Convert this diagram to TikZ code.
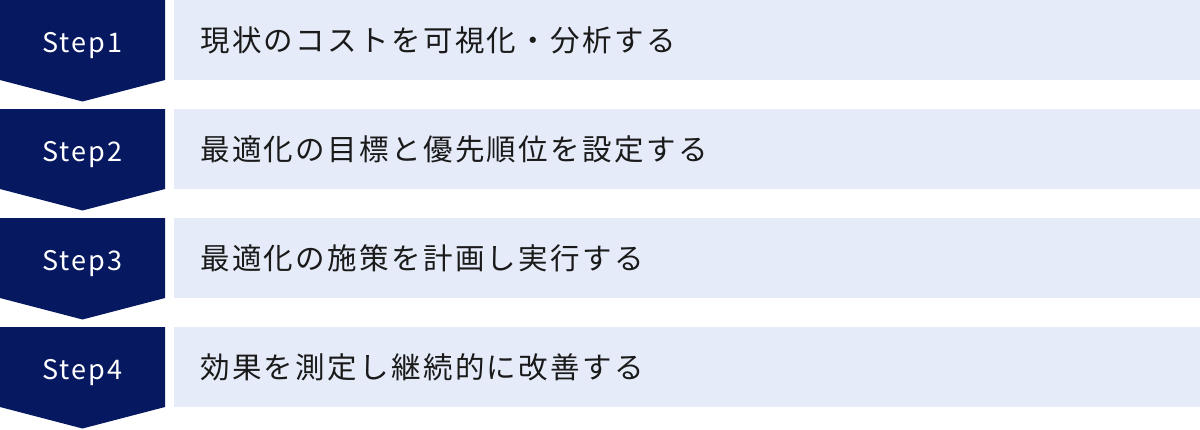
\documentclass[tikz,border=0pt]{standalone}
\usepackage{fontspec}
\setmainfont{Noto Sans CJK JP}
\newfontfamily\jpfont[LetterSpace=8]{Noto Sans CJK JP}
\newfontfamily\stepfont[LetterSpace=8]{Noto Sans CJK JP}
\definecolor{navy}{HTML}{061860}
\definecolor{pale}{HTML}{E5EBF8}
\definecolor{ink}{HTML}{1A1A1A}
\tikzset{
  steplabel/.style={text=white, font=\stepfont\fontsize{27}{32}\selectfont, inner sep=0pt, anchor=base},
  itemlabel/.style={text=ink, font=\jpfont\fontsize{29.5}{35}\selectfont, inner sep=0pt, anchor=base west},
}
\begin{document}
\begin{tikzpicture}[x=1pt,y=1pt]
\useasboundingbox (0,0) rectangle (1200,-429);
\foreach \i/\t in {1/現状のコストを可視化・分析する,2/最適化の目標と優先順位を設定する,3/最適化の施策を計画し実行する,4/効果を測定し継続的に改善する}{
  \pgfmathsetmacro\ytop{-(\i-1)*109}
  \fill[navy] (0,\ytop) -- (165,\ytop) -- (165,\ytop-80) -- (82.5,\ytop-101.5) -- (0,\ytop-80) -- cycle;
  \fill[pale] (174,\ytop) rectangle (1200,\ytop-80);
  \node[steplabel] (s\i) at (82.5,\ytop-52.5) {Step\i};
  \node[itemlabel] (t\i) at (200,\ytop-51) {\t};
}
\end{tikzpicture}
\end{document}
